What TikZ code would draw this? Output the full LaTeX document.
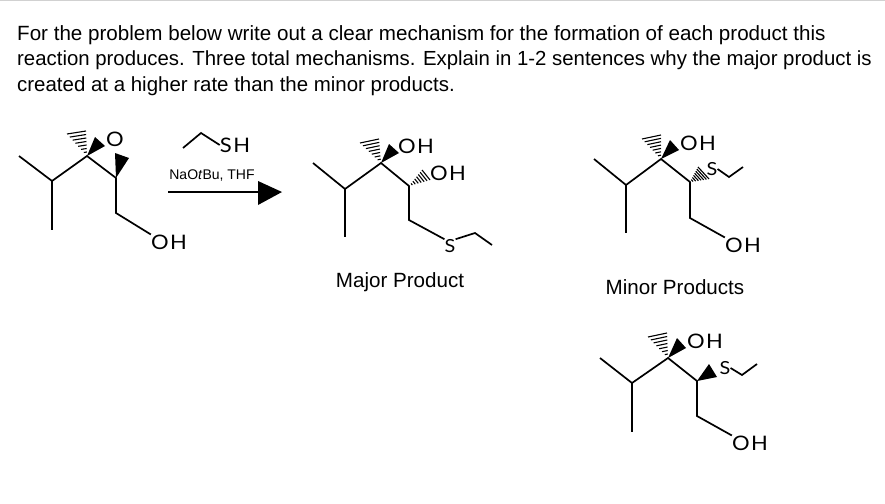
\documentclass[tikz,border=0pt]{standalone}
\usepackage{fontspec}
\setmainfont{Liberation Sans}
\newfontfamily\atomfont[FakeStretch=1.1]{Lato}
\usetikzlibrary{calc}
\newcommand{\hashwedge}[3]{%
  \foreach \t in {0.16,0.30,...,1.02}{%
    \draw[hashline] ($(#1)!\t!(#2)$) -- ($(#1)!\t!(#3)$);
  }%
}
\newcommand{\OHtext}{O\kern1.5pt H}
\tikzset{
  bond/.style={line width=1.7pt,line join=miter,line cap=butt,black},
  hashline/.style={line width=1.1pt,black},
  wedge/.style={fill=black,draw=none},
  atomlabel/.style={font=\atomfont\fontsize{20}{20}\selectfont,inner sep=0pt,text=black},
  smallatom/.style={font=\atomfont\fontsize{18}{18}\selectfont,inner sep=0pt,text=black},
  para/.style={font=\fontsize{20.45}{24}\selectfont,inner sep=0pt,anchor=base west,text=black},
  caption/.style={font=\fontsize{20.6}{24}\selectfont,inner sep=0pt,text=black},
  reagent/.style={font=\fontsize{14}{16}\selectfont,inner sep=0pt,text=black},
}
\begin{document}
\begin{tikzpicture}[x=1pt,y=-1pt]
\useasboundingbox (0,0) rectangle (885,503);
\draw[black!18,line width=1pt] (0,0.5) -- (885,0.5);
% question
\node[para,font=\fontsize{20.6}{24}\selectfont] (q1) at (17,41) {For the problem below write out a clear mechanism for the formation of each product this};
\node[para,font=\fontsize{20.38}{24}\selectfont] (q2) at (17,66) {reaction produces. Three total mechanisms. Explain in 1-2 sentences why the major product is};
\node[para] (q3) at (17,91) {created at a higher rate than the minor products.};
% reactant
\coordinate (a1) at (19,156); \coordinate (a2) at (52,181); \coordinate (a3) at (52,230);
\coordinate (a4) at (87,156); \coordinate (a5) at (116,178); \coordinate (a6) at (116,213);
\coordinate (a7) at (67,134); \coordinate (a7b) at (86,131);
\node[atomlabel] (aO) at (115,139) {O};
\node[atomlabel,anchor=center] (aOH) at (169,242) {\OHtext};
\draw[bond] (a1) -- (a2) -- (a4) -- (a5) -- (a6) -- (aOH.north west);
\draw[bond] (a2) -- (a3);
\hashwedge{a4}{a7}{a7b}
\fill[wedge] (a4) -- (95,137) -- (105,146) -- cycle;
\fill[wedge] (a5) -- (115,153) -- (129,158) -- cycle;
% reagent
\coordinate (r1) at (183,148); \coordinate (r2) at (201,133);
\node[atomlabel] (rS) at (235,145) {S\kern1.5pt H};
\draw[bond] (r1) -- (r2) -- (rS.west);
\node[reagent] (rtxt) at (212,176) {NaO\textit{t}Bu, THF};
\coordinate (ar1) at (168,192); \coordinate (ar2) at (260,192);
\draw[line width=2pt] (ar1) -- (ar2);
\fill[wedge] (258,181) -- (282,192) -- (258,205) -- cycle;
% major product
\coordinate (b1) at (313,163); \coordinate (b2) at (345,189); \coordinate (b3) at (345,237);
\coordinate (b4) at (381,163); \coordinate (b5) at (409,186); \coordinate (b6) at (409,220);
\coordinate (b7) at (360,143); \coordinate (b7b) at (379,139);
\coordinate (b8) at (422,170); \coordinate (b8b) at (430,180);
\coordinate (b9) at (475,233); \coordinate (b10) at (492,245);
\node[atomlabel] (bOH1) at (416,146) {\OHtext};
\node[atomlabel] (bOH2) at (448,173) {\OHtext};
\node[smallatom] (bS) at (450,246) {S};
\draw[bond] (b1) -- (b2) -- (b4) -- (b5) -- (b6) -- (bS.north west);
\draw[bond] (b2) -- (b3);
\draw[bond] (bS.north east) -- (b9) -- (b10);
\hashwedge{b4}{b7}{b7b}
\hashwedge{b5}{b8}{b8b}
\fill[wedge] (b4) -- (389,144) -- (399,153) -- cycle;
\node[caption] (major) at (400,282) {Major Product};
% minor product 1
\coordinate (c1) at (594,159); \coordinate (c2) at (626,185); \coordinate (c3) at (626,233);
\coordinate (c4) at (661,159); \coordinate (c5) at (690,182); \coordinate (c6) at (690,218);
\coordinate (c7) at (642,139); \coordinate (c7b) at (661,135);
\coordinate (c8) at (698,167); \coordinate (c8b) at (709,179);
\coordinate (c9) at (729,177); \coordinate (c10) at (743,167);
\node[atomlabel] (cOH1) at (698,143) {\OHtext};
\node[atomlabel] (cOH2) at (743,245) {\OHtext};
\node[smallatom] (cS) at (712,169) {S};
\draw[bond] (c1) -- (c2) -- (c4) -- (c5) -- (c6) -- (cOH2.north west);
\draw[bond] (c2) -- (c3);
\draw[bond] (cS.east) -- (c9) -- (c10);
\hashwedge{c4}{c7}{c7b}
\hashwedge{c5}{c8}{c8b}
\fill[wedge] (c4) -- (670,140) -- (679,150) -- cycle;
\node[caption] (minor) at (675,287) {Minor Products};
% minor product 2
\coordinate (d1) at (600,358); \coordinate (d2) at (632,383); \coordinate (d3) at (632,432);
\coordinate (d4) at (668,358); \coordinate (d5) at (697,381); \coordinate (d6) at (697,416);
\coordinate (d7) at (648,337); \coordinate (d7b) at (667,333);
\coordinate (d9) at (742,375); \coordinate (d10) at (757,364);
\node[atomlabel] (dOH1) at (705,341) {\OHtext};
\node[atomlabel] (dOH2) at (750,443) {\OHtext};
\node[smallatom] (dS) at (725,368) {S};
\draw[bond] (d1) -- (d2) -- (d4) -- (d5) -- (d6) -- (dOH2.north west);
\draw[bond] (d2) -- (d3);
\draw[bond] (dS.east) -- (d9) -- (d10);
\hashwedge{d4}{d7}{d7b}
\fill[wedge] (d4) -- (677,338) -- (686,348) -- cycle;
\fill[wedge] (d5) -- (709,364) -- (717,377) -- cycle;
\end{tikzpicture}
\end{document}
